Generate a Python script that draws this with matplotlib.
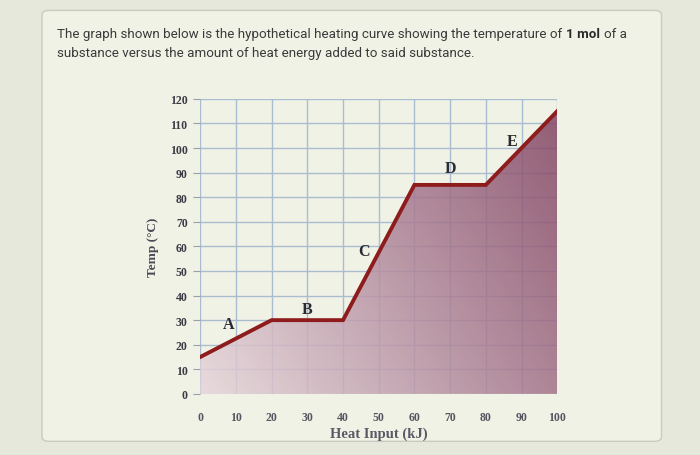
import matplotlib
matplotlib.use("Agg")
import matplotlib.pyplot as plt
import numpy as np
from matplotlib.patches import FancyBboxPatch, Polygon

# Data
heat_kj = [0, 20, 40, 60, 80, 100]
temp_c = [15, 30, 30, 85, 85, 115]
x_ticks = [0, 10, 20, 30, 40, 50, 60, 70, 80, 90, 100]
y_ticks = [0, 10, 20, 30, 40, 50, 60, 70, 80, 90, 100, 110, 120]
seg_labels = ["A", "B", "C", "D", "E"]
seg_label_x = [8, 30, 46, 70, 87.5]
seg_label_y = [28.5, 34.5, 58, 92, 103]

fig = plt.figure(figsize=(7, 4.56), dpi=100)
fig.patch.set_facecolor("#e6e8dc")

card = FancyBboxPatch((0.06, 0.03), 0.885, 0.945, boxstyle="round,pad=0.0,rounding_size=0.01",
                      transform=fig.transFigure, facecolor="#f1f2e6", edgecolor="#c9cbc0",
                      linewidth=1.0, zorder=-5)
fig.patches.append(card)

serif = ["Liberation Serif", "DejaVu Serif"]

ax = fig.add_axes([0.286, 0.134, 0.51, 0.647])
ax.set_facecolor("none")
ax.set_xlim(0, 100)
ax.set_ylim(0, 120)

# title text
t1 = fig.text(0.081, 0.917, "The graph shown below is the hypothetical heating curve showing the temperature of",
              fontsize=9.6, color="#3a3a3a", family="Roboto", va="baseline")
a = ax.annotate("1 mol", xy=(1, 0), xycoords=t1, xytext=(3, 0), textcoords="offset points",
                fontsize=9.6, color="#2a2a2a", family="Roboto", fontweight="bold", va="bottom", ha="left",
                annotation_clip=False)
ax.annotate("of a", xy=(1, 0), xycoords=a, xytext=(3, 0), textcoords="offset points",
            fontsize=9.6, color="#3a3a3a", family="Roboto", va="bottom", ha="left", annotation_clip=False)
fig.text(0.081, 0.875, "substance versus the amount of heat energy added to said substance.",
         fontsize=9.6, color="#3a3a3a", family="Roboto", va="baseline")

# gradient fill under the curve
poly_pts = list(zip(heat_kj, temp_c)) + [(heat_kj[-1], 0), (heat_kj[0], 0)]
poly = Polygon(poly_pts, closed=True, facecolor="none", edgecolor="none", transform=ax.transData)
ax.add_patch(poly)
gx = np.linspace(0, 1, 200)
gy = np.linspace(0, 1, 200)
GX, GY = np.meshgrid(gx, gy)
G = np.clip(0.7 * GX + 0.35 * GY, 0, 1)
light = np.array([0.90, 0.84, 0.86])
dark = np.array([0.52, 0.28, 0.40])
img = light[None, None, :] * (1 - G[..., None]) + dark[None, None, :] * G[..., None]
im = ax.imshow(img, extent=(0, 100, 0, 120), origin="lower", aspect="auto", zorder=1, alpha=0.85)
im.set_clip_path(poly)

ax.plot(heat_kj, temp_c, color="#8e1c1c", linewidth=2.8, solid_joinstyle="miter", zorder=3)

for lab, lx, ly in zip(seg_labels, seg_label_x, seg_label_y):
    ax.text(lx, ly, lab, family=serif, fontweight="bold", fontsize=11.5, color="#2a2a33",
            ha="center", va="center", zorder=4)

ax.set_xticks(x_ticks)
ax.set_yticks(y_ticks)
ax.grid(True, color="#a9bcd0", linewidth=1.0, zorder=0)
ax.set_axisbelow(True)
for s in ax.spines.values():
    s.set_visible(False)
ax.tick_params(axis="x", length=0, pad=12, labelsize=8.5, labelcolor="#555560")
ax.tick_params(axis="y", length=5, width=0.8, color="#9aa0a8", pad=4, labelsize=8.5, labelcolor="#3a3a44")
for lbl in ax.get_xticklabels() + ax.get_yticklabels():
    lbl.set_family(serif)
    lbl.set_fontweight("bold")

ax.set_xlabel("Heat Input (kJ)", family=serif, fontweight="bold", fontsize=10.5, color="#5a5a66", labelpad=3)
ax.set_ylabel("Temp (°C)", family=serif, fontweight="bold", fontsize=9.5, color="#4a4a55", labelpad=8)

fig.savefig("out.png", dpi=100, facecolor=fig.get_facecolor())
